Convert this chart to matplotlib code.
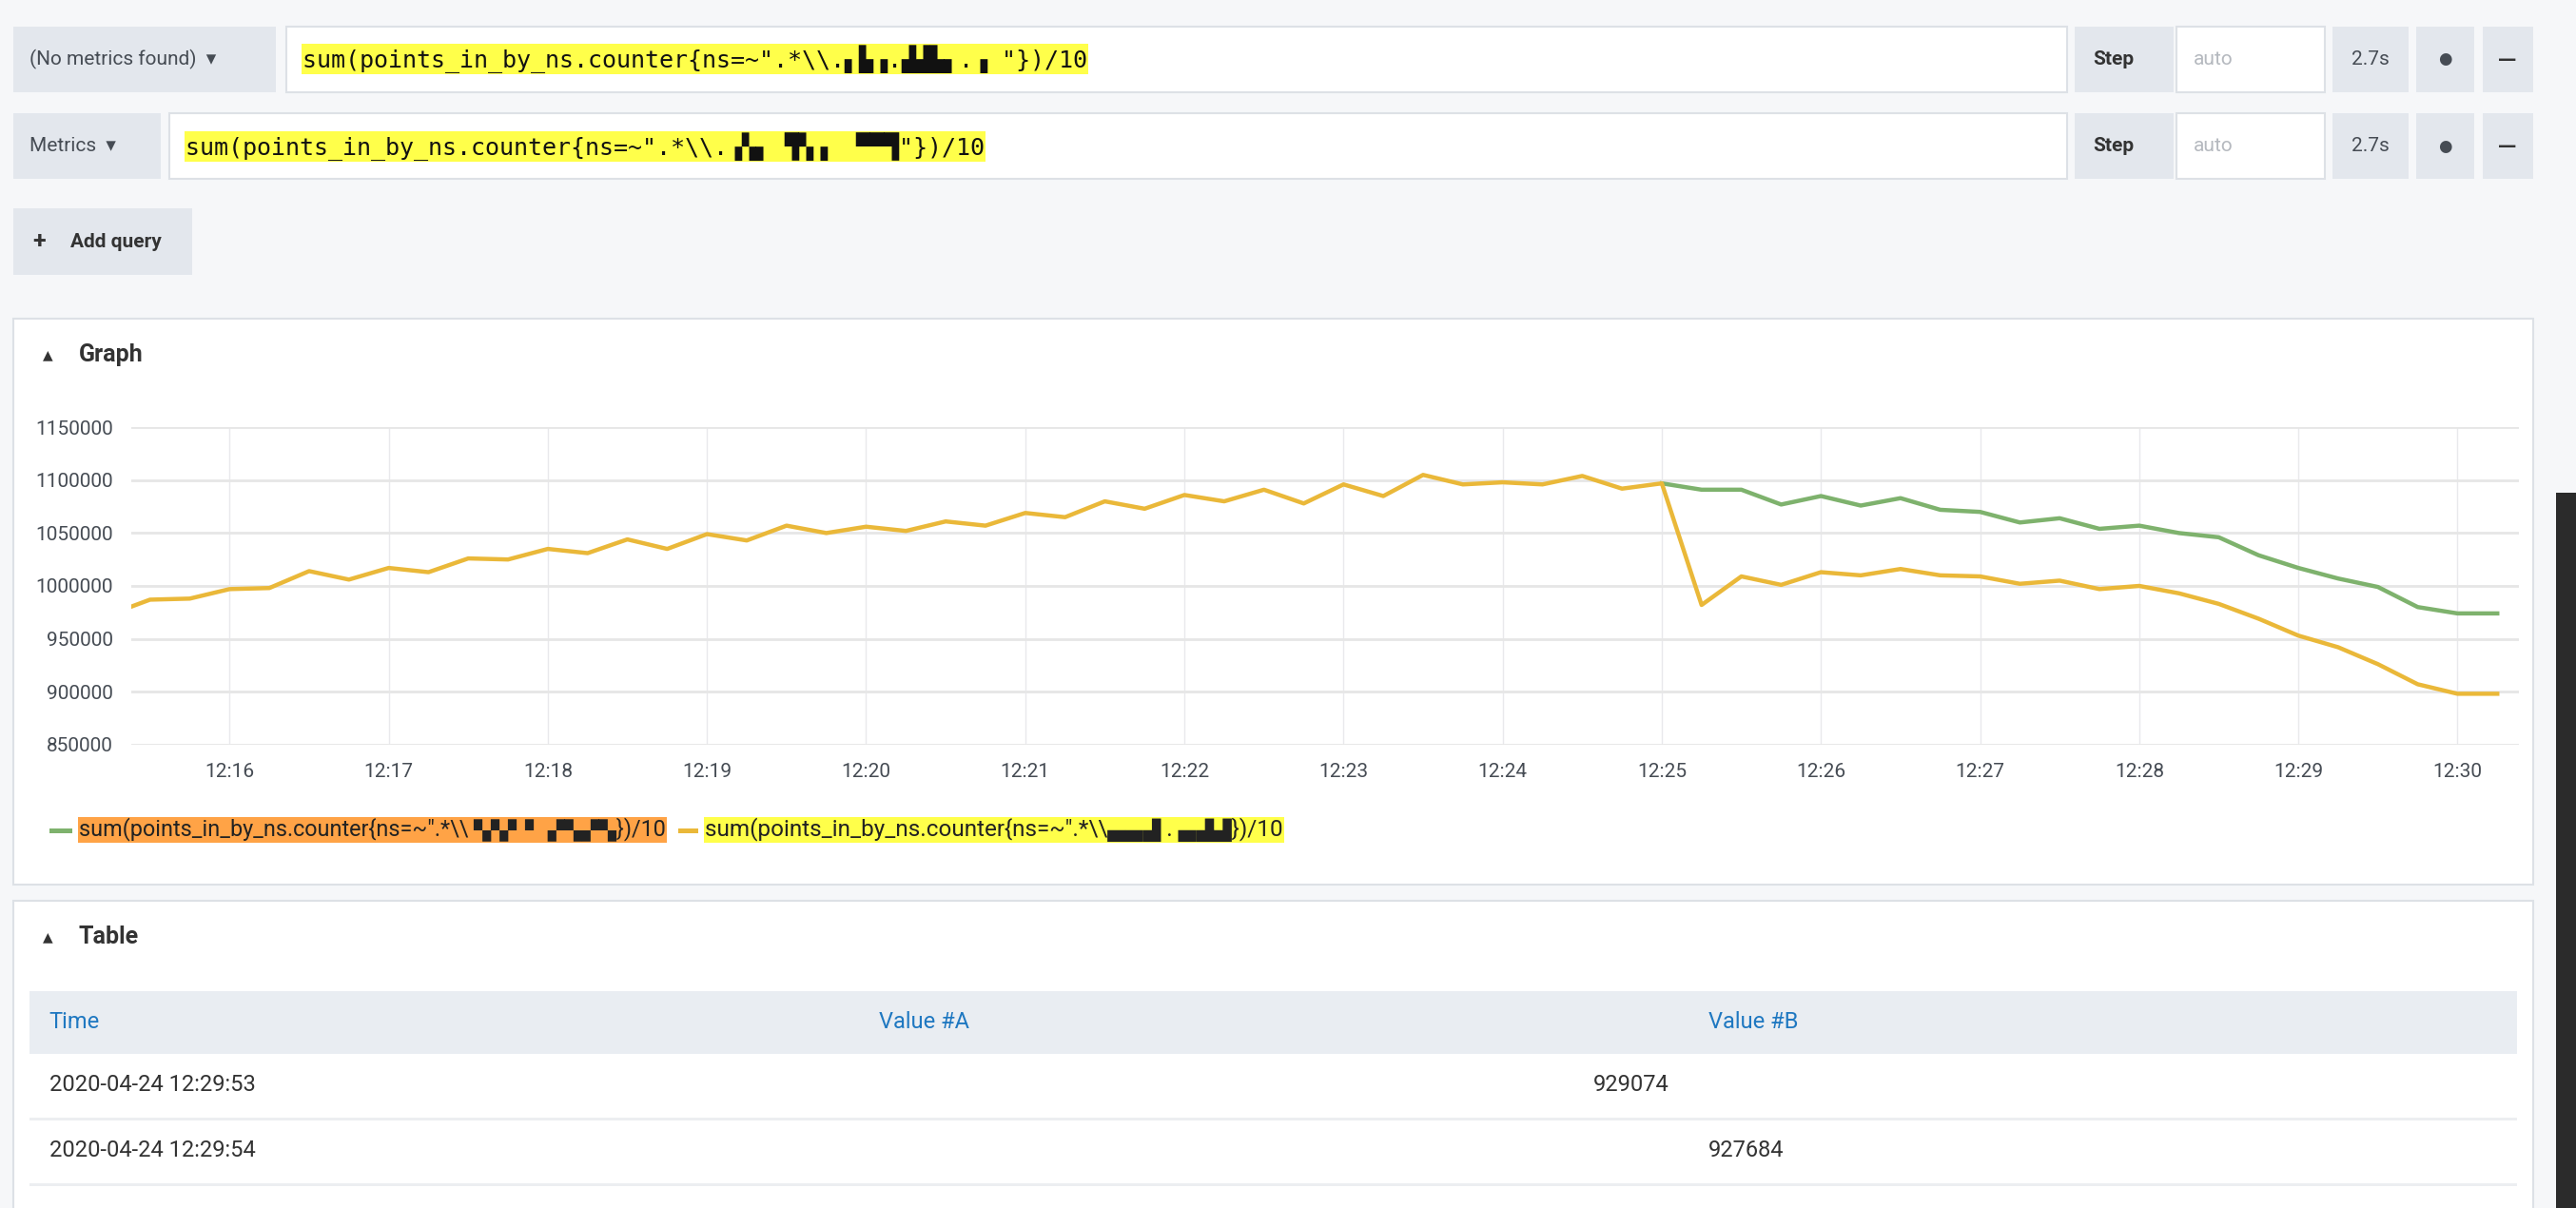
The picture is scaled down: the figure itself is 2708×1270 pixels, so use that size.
import matplotlib
matplotlib.use("Agg")
import matplotlib.pyplot as plt
from matplotlib.patches import Rectangle
import datetime as dt

# ---- data ----
yellow_vals = [973000, 987000, 988000, 997000, 998000, 1014000, 1006000, 1017000, 1013000, 1026000,
               1025000, 1035000, 1031000, 1044000, 1035000, 1049000, 1043000, 1057000, 1050000, 1056000,
               1052000, 1061000, 1057000, 1069000, 1065000, 1080000, 1073000, 1086000, 1080000, 1091000,
               1078000, 1096000, 1085000, 1105000, 1096000, 1098000, 1096000, 1104000, 1092000, 1097000,
               982000, 1009000, 1001000, 1013000, 1010000, 1016000, 1010000, 1009000, 1002000, 1005000,
               997000, 1000000, 993000, 983000, 969000, 953000, 942000, 926000, 907000, 898000, 898000]
green_vals = [1097000, 1091000, 1091000, 1077000, 1085000, 1076000, 1083000, 1072000, 1070000, 1060000,
              1064000, 1054000, 1057000, 1050000, 1046000, 1029000, 1017000, 1007000, 999000, 980000,
              974000, 974000]
y_ticks = [850000, 900000, 950000, 1000000, 1050000, 1100000, 1150000]
x_tick_labels = ["12:16", "12:17", "12:18", "12:19", "12:20", "12:21", "12:22", "12:23",
                 "12:24", "12:25", "12:26", "12:27", "12:28", "12:29", "12:30"]
table_rows = [("2020-04-24 12:29:53", "929074", ""), ("2020-04-24 12:29:54", "", "927684")]

t0 = dt.datetime(2020, 4, 24, 12, 15, 15)
yellow_t = [t0 + dt.timedelta(seconds=15 * i) for i in range(len(yellow_vals))]
g0 = dt.datetime(2020, 4, 24, 12, 25, 0)
green_t = [g0 + dt.timedelta(seconds=15 * i) for i in range(len(green_vals))]

W, H = 1568.0, 735.0
fig = plt.figure(figsize=(27.08, 12.70), dpi=100)
fig.patch.set_facecolor("#f6f7f9")

def box(x0, y0, x1, y1, fc, ec="none", lw=1.5):
    fig.patches.append(Rectangle((x0 / W, 1 - y1 / H), (x1 - x0) / W, (y1 - y0) / H,
                                 transform=fig.transFigure, fc=fc, ec=ec, lw=lw, zorder=-5))

def txt(x, y, s, size=15, color="#464c54", ha="left", weight="normal", family=None, bg=None):
    kw = {}
    if bg:
        kw["bbox"] = dict(boxstyle="square,pad=0.05", fc=bg, ec="none")
    fig.text(x / W, 1 - y / H, s, fontsize=size, color=color, ha=ha, va="center",
             weight=weight, family=family or "Roboto", **kw)

GREY = "#e3e7ed"
BORDER = "#dde1e6"
box(8, 16, 168, 56, GREY); txt(18, 36, "(No metrics found)  ▾", 15, family=["Roboto", "DejaVu Sans"])
box(174, 16, 1258, 56, "white", BORDER)
txt(184, 36, 'sum(points_in_by_ns.counter{ns=~".*\\\\.▖▙▗.▟▟▙▖.▗ "})/10', 18, "#111", family="DejaVu Sans Mono", bg="#ffff4a")
box(8, 69, 98, 109, GREY); txt(18, 89, "Metrics  ▾", 15, family=["Roboto", "DejaVu Sans"])
box(103, 69, 1258, 109, "white", BORDER)
txt(113, 89, 'sum(points_in_by_ns.counter{ns=~".*\\\\.▗▚▖ ▜▚▗  ▀▀▜"})/10', 18, "#111", family="DejaVu Sans Mono", bg="#ffff4a")
for y0 in (16, 69):
    y1 = y0 + 40; yc = y0 + 20
    box(1263, y0, 1323, y1, GREY); txt(1274, yc, "Step", 15, "#333", weight="bold")
    box(1325, y0, 1415, y1, "white", BORDER); txt(1335, yc, "auto", 15, "#b5b9bf")
    box(1420, y0, 1466, y1, GREY); txt(1443, yc, "2.7s", 15, ha="center")
    box(1471, y0, 1506, y1, GREY); txt(1488, yc, "●", 12, "#464c54", ha="center", family="DejaVu Sans")
    box(1511, y0, 1542, y1, GREY); txt(1526, yc, "—", 14, "#333", ha="center", weight="bold", family="DejaVu Sans")
box(8, 127, 117, 167, GREY); txt(20, 147, "+", 18, "#333", weight="bold"); txt(43, 147, "Add query", 15, "#333", weight="bold")

box(8, 194, 1542, 538, "white", BORDER)
txt(26, 216, "▲", 10, "#333", family="DejaVu Sans"); txt(48, 216, "Graph", 18, "#333", weight="bold")
box(8, 548, 1542, 740, "white", BORDER)
txt(26, 570, "▲", 10, "#333", family="DejaVu Sans"); txt(48, 570, "Table", 18, "#333", weight="bold")
box(18, 603, 1532, 641, "#e9edf2")
for x, s in [(30, "Time"), (535, "Value #A"), (1040, "Value #B")]:
    txt(x, 622, s, 17, "#1f78c1")
for i, (t, a, b) in enumerate(table_rows):
    yc = 660 + 40 * i
    txt(30, yc, t, 17, "#333")
    if a: txt(1016, yc, a, 17, "#333", ha="right")
    if b: txt(1040, yc, b, 17, "#333")
    box(18, yc + 20, 1532, yc + 21.5, "#eceef1")
box(1556, 300, 1568, 735, "#2b2b2b")

box(30, 504, 44, 507, "#7eb26d"); txt(48, 505, 'sum(points_in_by_ns.counter{ns=~".*\\\\ ▚▚▘▘ ▞▚▞▚})/10', 16.8, "#222", family=["Roboto", "DejaVu Sans"], bg="#ffa346")
box(413, 504, 425, 507, "#eab839"); txt(429, 505, 'sum(points_in_by_ns.counter{ns=~".*\\\\▄▄▟ . ▄▟▟})/10', 17.5, "#222", family=["Roboto", "DejaVu Sans"], bg="#ffff4a")

ax = fig.add_axes([80 / W, 1 - 453 / H, (1533 - 80) / W, (453 - 260) / H])
ax.set_zorder(5)
ax.plot(yellow_t, yellow_vals, color="#eab839", lw=3.2, zorder=3)
ax.plot(green_t, green_vals, color="#7eb26d", lw=3.2, zorder=2)
ax.set_ylim(850000, 1150000)
ax.set_xlim(dt.datetime(2020, 4, 24, 12, 15, 23), dt.datetime(2020, 4, 24, 12, 30, 23))
ax.set_yticks(y_ticks)
ax.set_yticklabels([str(v) for v in y_ticks])
xt = [dt.datetime(2020, 4, 24, 12, 16) + dt.timedelta(minutes=i) for i in range(len(x_tick_labels))]
ax.set_xticks(xt)
ax.set_xticklabels(x_tick_labels)
ax.grid(True, axis="y", color="#e6e6e6", lw=2)
ax.grid(True, axis="x", color="#e9e9ec", lw=1)
for s in ax.spines.values():
    s.set_visible(False)
ax.tick_params(length=0, labelsize=15, colors="#464c54", pad=14)
for lab in ax.get_xticklabels() + ax.get_yticklabels():
    lab.set_family("Roboto")
ax.set_facecolor("white")

fig.savefig("out.png", dpi=100, facecolor=fig.get_facecolor())
